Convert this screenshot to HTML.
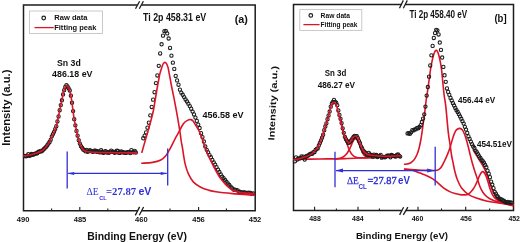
<!DOCTYPE html>
<html><head><meta charset="utf-8"><title>XPS spectra</title>
<style>html,body{margin:0;padding:0;background:#fff;}svg{display:block;filter:blur(0.2px);}</style>
</head><body>
<svg width="520" height="242" viewBox="0 0 520 242"><path d="M137.4 5 H23.5 V210.7 H137.4 M141.6 210.7 H255.2 V5 H141.6" fill="none" stroke="#1c1c1c" stroke-width="1.5" stroke-linejoin="miter" stroke-linecap="butt"/>
<g stroke="#1c1c1c" stroke-width="1.3" stroke-linecap="butt"><line x1="135.5" y1="8.8" x2="139.6" y2="1.3"/><line x1="139.3" y1="8.8" x2="143.4" y2="1.3"/><line x1="135.3" y1="215.4" x2="139.6" y2="206.9"/><line x1="139.3" y1="215.2" x2="143.6" y2="207"/></g>
<g stroke="#1c1c1c" stroke-width="1.1"><line x1="79.8" y1="210.7" x2="79.8" y2="206.9"/><line x1="198.6" y1="210.7" x2="198.6" y2="206.9"/><line x1="51.6" y1="210.7" x2="51.6" y2="208.5"/><line x1="107.8" y1="210.7" x2="107.8" y2="208.5"/><line x1="170" y1="210.7" x2="170" y2="208.5"/><line x1="226.4" y1="210.7" x2="226.4" y2="208.5"/></g>
<rect x="29.5" y="11" width="73" height="22.5" fill="#fff" stroke="#c4c4c4" stroke-width="0.9"/>
<g fill="none" stroke="#1c1c1c" stroke-width="1.2"><circle cx="43.7" cy="18" r="1.8"/></g>
<line x1="34.5" y1="27.6" x2="53.8" y2="27.6" stroke="#dc1428" stroke-width="1.3"/>
<text x="54.2" y="20.2" font-family="'Liberation Sans', Arial, sans-serif" font-size="8" font-weight="bold" fill="#111" textLength="33.3" lengthAdjust="spacingAndGlyphs">Raw data</text>
<text x="54.2" y="29.7" font-family="'Liberation Sans', Arial, sans-serif" font-size="8" font-weight="bold" fill="#111" textLength="42.2" lengthAdjust="spacingAndGlyphs">Fitting peak</text>
<text x="143" y="21.3" font-family="'Liberation Sans', Arial, sans-serif" font-size="10" font-weight="bold" fill="#111" textLength="63.2" lengthAdjust="spacingAndGlyphs">Ti 2p 458.31 eV</text>
<text x="234.7" y="22.6" font-family="'Liberation Sans', Arial, sans-serif" font-size="11" font-weight="bold" fill="#111" textLength="13.2" lengthAdjust="spacingAndGlyphs">(a)</text>
<text x="57" y="65.9" font-family="'Liberation Sans', Arial, sans-serif" font-size="9.3" font-weight="bold" fill="#111" textLength="23.8" lengthAdjust="spacingAndGlyphs">Sn 3d</text>
<text x="52.1" y="77.4" font-family="'Liberation Sans', Arial, sans-serif" font-size="8.9" font-weight="bold" fill="#111" textLength="40.4" lengthAdjust="spacingAndGlyphs">486.18 eV</text>
<text x="202.4" y="117.8" font-family="'Liberation Sans', Arial, sans-serif" font-size="8.9" font-weight="bold" fill="#111" textLength="41.2" lengthAdjust="spacingAndGlyphs">456.58 eV</text>
<text x="23.1" y="221.9" font-family="'Liberation Sans', Arial, sans-serif" font-size="7.6" font-weight="bold" fill="#111" textLength="12.6" lengthAdjust="spacingAndGlyphs" text-anchor="middle">490</text>
<text x="80" y="221.9" font-family="'Liberation Sans', Arial, sans-serif" font-size="7.6" font-weight="bold" fill="#111" textLength="12.6" lengthAdjust="spacingAndGlyphs" text-anchor="middle">485</text>
<text x="141.3" y="221.9" font-family="'Liberation Sans', Arial, sans-serif" font-size="7.6" font-weight="bold" fill="#111" textLength="12.6" lengthAdjust="spacingAndGlyphs" text-anchor="middle">460</text>
<text x="198.5" y="221.9" font-family="'Liberation Sans', Arial, sans-serif" font-size="7.6" font-weight="bold" fill="#111" textLength="12.6" lengthAdjust="spacingAndGlyphs" text-anchor="middle">456</text>
<text x="255" y="221.9" font-family="'Liberation Sans', Arial, sans-serif" font-size="7.6" font-weight="bold" fill="#111" textLength="12.6" lengthAdjust="spacingAndGlyphs" text-anchor="middle">452</text>
<text x="87.3" y="239.5" font-family="'Liberation Sans', Arial, sans-serif" font-size="10.4" font-weight="bold" fill="#111" textLength="99.6" lengthAdjust="spacingAndGlyphs">Binding Energy (eV)</text>
<text transform="translate(10.1 145.8) rotate(-90)" font-family="'Liberation Sans', Arial, sans-serif" font-size="10.8" font-weight="bold" fill="#111" textLength="76.3" lengthAdjust="spacingAndGlyphs">Intensity (a.u.)</text>
<g fill="none" stroke="#1c1c1c" stroke-width="1.05"><circle cx="24.96" cy="156.01" r="1.65"/><circle cx="26.08" cy="156.31" r="1.65"/><circle cx="27.2" cy="155.71" r="1.65"/><circle cx="28.32" cy="154.07" r="1.65"/><circle cx="29.44" cy="155.86" r="1.65"/><circle cx="30.56" cy="155.21" r="1.65"/><circle cx="31.68" cy="154.04" r="1.65"/><circle cx="32.8" cy="154.74" r="1.65"/><circle cx="33.92" cy="154.24" r="1.65"/><circle cx="35.04" cy="153.85" r="1.65"/><circle cx="36.16" cy="153.26" r="1.65"/><circle cx="37.28" cy="153.35" r="1.65"/><circle cx="38.4" cy="151.78" r="1.65"/><circle cx="39.52" cy="151.81" r="1.65"/><circle cx="40.64" cy="150.96" r="1.65"/><circle cx="41.76" cy="151.31" r="1.65"/><circle cx="42.88" cy="150.09" r="1.65"/><circle cx="44" cy="148.91" r="1.65"/><circle cx="45.12" cy="147.8" r="1.65"/><circle cx="46.24" cy="146.66" r="1.65"/><circle cx="47.36" cy="145.24" r="1.65"/><circle cx="48.48" cy="143.49" r="1.65"/><circle cx="49.6" cy="142.03" r="1.65"/><circle cx="50.72" cy="139.67" r="1.65"/><circle cx="51.84" cy="136.3" r="1.65"/><circle cx="52.96" cy="134.1" r="1.65"/><circle cx="54.08" cy="131.84" r="1.65"/><circle cx="55.2" cy="129.05" r="1.65"/><circle cx="56.32" cy="126.17" r="1.65"/><circle cx="57.44" cy="121.4" r="1.65"/><circle cx="58.56" cy="116.39" r="1.65"/><circle cx="59.68" cy="110.22" r="1.65"/><circle cx="60.8" cy="105.05" r="1.65"/><circle cx="61.92" cy="100.26" r="1.65"/><circle cx="63.04" cy="94.39" r="1.65"/><circle cx="64.16" cy="90.15" r="1.65"/><circle cx="65.28" cy="86.89" r="1.65"/><circle cx="66.4" cy="85.21" r="1.65"/><circle cx="67.52" cy="86.48" r="1.65"/><circle cx="68.64" cy="88.31" r="1.65"/><circle cx="69.76" cy="90.46" r="1.65"/><circle cx="70.88" cy="95.65" r="1.65"/><circle cx="72" cy="102.78" r="1.65"/><circle cx="73.12" cy="111.1" r="1.65"/><circle cx="74.24" cy="119.19" r="1.65"/><circle cx="75.36" cy="125.3" r="1.65"/><circle cx="76.48" cy="130.9" r="1.65"/><circle cx="77.6" cy="135.65" r="1.65"/><circle cx="78.72" cy="140.16" r="1.65"/><circle cx="79.84" cy="143.6" r="1.65"/><circle cx="80.96" cy="146.16" r="1.65"/><circle cx="82.08" cy="147.64" r="1.65"/><circle cx="83.2" cy="149.48" r="1.65"/><circle cx="84.32" cy="149.98" r="1.65"/><circle cx="85.44" cy="151.29" r="1.65"/><circle cx="86.56" cy="149.82" r="1.65"/><circle cx="87.68" cy="151.82" r="1.65"/><circle cx="88.8" cy="151.14" r="1.65"/><circle cx="89.92" cy="150.15" r="1.65"/><circle cx="91.04" cy="151.07" r="1.65"/><circle cx="92.16" cy="151.47" r="1.65"/><circle cx="93.28" cy="151.72" r="1.65"/><circle cx="94.4" cy="150.64" r="1.65"/><circle cx="95.52" cy="150.57" r="1.65"/><circle cx="96.64" cy="151.79" r="1.65"/><circle cx="97.76" cy="151.22" r="1.65"/><circle cx="98.88" cy="151.89" r="1.65"/><circle cx="100" cy="152.39" r="1.65"/><circle cx="101.12" cy="150.26" r="1.65"/><circle cx="102.24" cy="152" r="1.65"/><circle cx="103.36" cy="152.91" r="1.65"/><circle cx="104.48" cy="151.58" r="1.65"/><circle cx="105.6" cy="151.16" r="1.65"/><circle cx="106.72" cy="152.6" r="1.65"/><circle cx="107.84" cy="152.19" r="1.65"/><circle cx="108.96" cy="152.79" r="1.65"/><circle cx="110.08" cy="151.69" r="1.65"/><circle cx="111.2" cy="150.69" r="1.65"/><circle cx="112.32" cy="151.94" r="1.65"/><circle cx="113.44" cy="151.65" r="1.65"/><circle cx="114.56" cy="152.76" r="1.65"/><circle cx="115.68" cy="152.24" r="1.65"/><circle cx="116.8" cy="150.61" r="1.65"/><circle cx="117.92" cy="151.01" r="1.65"/><circle cx="119.04" cy="152.89" r="1.65"/><circle cx="120.16" cy="152.71" r="1.65"/><circle cx="121.28" cy="151.53" r="1.65"/><circle cx="122.4" cy="152.12" r="1.65"/><circle cx="123.52" cy="152.53" r="1.65"/><circle cx="124.64" cy="152.56" r="1.65"/><circle cx="125.76" cy="152.93" r="1.65"/><circle cx="126.88" cy="152.38" r="1.65"/><circle cx="128" cy="152.07" r="1.65"/><circle cx="129.12" cy="151.93" r="1.65"/><circle cx="130.24" cy="153.12" r="1.65"/><circle cx="131.36" cy="150.15" r="1.65"/><circle cx="132.48" cy="152.06" r="1.65"/><circle cx="133.6" cy="152.22" r="1.65"/><circle cx="134.72" cy="150.91" r="1.65"/><circle cx="135.84" cy="152.5" r="1.65"/></g>
<path d="M23.7 155.8C24.52 155.7 26.95 155.5 28.6 155.2C30.25 154.9 31.95 154.47 33.6 154C35.25 153.53 37.27 152.87 38.5 152.4C39.73 151.93 40.17 151.67 41 151.2C41.83 150.73 42.73 150.22 43.5 149.6C44.27 148.98 44.92 148.28 45.6 147.5C46.28 146.72 46.98 145.78 47.6 144.9C48.22 144.02 48.75 143.18 49.3 142.2C49.85 141.22 50.35 140.12 50.9 139C51.45 137.88 52.05 136.73 52.6 135.5C53.15 134.27 53.72 132.78 54.2 131.6C54.68 130.42 55.12 129.42 55.5 128.4C55.88 127.38 56.02 127.48 56.5 125.5C56.98 123.52 57.78 119.4 58.4 116.5C59.02 113.6 59.58 111.05 60.2 108.1C60.82 105.15 61.47 101.75 62.1 98.8C62.73 95.85 63.28 92.58 64 90.4C64.72 88.22 65.47 85.7 66.4 85.7C67.33 85.7 68.77 88.22 69.6 90.4C70.43 92.58 70.88 95.85 71.4 98.8C71.92 101.75 72.3 105.15 72.7 108.1C73.1 111.05 73.32 113.43 73.8 116.5C74.28 119.57 75 123.42 75.6 126.5C76.2 129.58 76.75 132.35 77.4 135C78.05 137.65 78.8 140.37 79.5 142.4C80.2 144.43 80.77 145.82 81.6 147.2C82.43 148.58 83.05 149.9 84.5 150.7C85.95 151.5 86.72 151.68 90.3 152C93.88 152.32 101.05 152.47 106 152.6C110.95 152.73 114.87 152.75 120 152.8C125.13 152.85 134 152.88 136.8 152.9" fill="none" stroke="#dc1428" stroke-width="1.6" stroke-linejoin="round" stroke-linecap="round"/>
<g fill="none" stroke="#1c1c1c" stroke-width="1.05"><circle cx="143.25" cy="138.27" r="1.65"/><circle cx="144.66" cy="135.7" r="1.65"/><circle cx="146.07" cy="132.44" r="1.65"/><circle cx="147.48" cy="127.74" r="1.65"/><circle cx="148.89" cy="122.74" r="1.65"/><circle cx="150.3" cy="115.34" r="1.65"/><circle cx="151.71" cy="106.99" r="1.65"/><circle cx="153.12" cy="99.66" r="1.65"/><circle cx="154.53" cy="92.22" r="1.65"/><circle cx="155.94" cy="83.07" r="1.65"/><circle cx="157.35" cy="75.49" r="1.65"/><circle cx="158.76" cy="65.82" r="1.65"/><circle cx="160.17" cy="53.48" r="1.65"/><circle cx="161.58" cy="44.29" r="1.65"/><circle cx="162.99" cy="35.65" r="1.65"/><circle cx="164.4" cy="31.19" r="1.65"/><circle cx="165.81" cy="30.94" r="1.65"/><circle cx="167.22" cy="33.39" r="1.65"/><circle cx="168.63" cy="38.5" r="1.65"/><circle cx="170.04" cy="47.98" r="1.65"/><circle cx="171.45" cy="55.63" r="1.65"/><circle cx="172.86" cy="62.65" r="1.65"/><circle cx="174.27" cy="68.93" r="1.65"/><circle cx="175.68" cy="75.94" r="1.65"/><circle cx="177.09" cy="80.39" r="1.65"/><circle cx="178.5" cy="84.73" r="1.65"/><circle cx="179.91" cy="89.69" r="1.65"/><circle cx="181.32" cy="92.67" r="1.65"/><circle cx="182.73" cy="94.79" r="1.65"/><circle cx="184.14" cy="97.05" r="1.65"/><circle cx="185.55" cy="99.48" r="1.65"/><circle cx="186.96" cy="101.48" r="1.65"/><circle cx="188.37" cy="103.66" r="1.65"/><circle cx="189.78" cy="106.09" r="1.65"/><circle cx="191.19" cy="108.71" r="1.65"/><circle cx="192.6" cy="111.56" r="1.65"/><circle cx="194.01" cy="114.42" r="1.65"/><circle cx="195.42" cy="117.57" r="1.65"/><circle cx="196.83" cy="120.89" r="1.65"/><circle cx="198.24" cy="124.57" r="1.65"/><circle cx="199.65" cy="128" r="1.65"/><circle cx="201.06" cy="133.14" r="1.65"/><circle cx="202.47" cy="137.05" r="1.65"/><circle cx="203.88" cy="141.53" r="1.65"/><circle cx="205.29" cy="146.53" r="1.65"/><circle cx="206.7" cy="149.87" r="1.65"/><circle cx="208.11" cy="152.37" r="1.65"/><circle cx="209.52" cy="155.06" r="1.65"/><circle cx="210.93" cy="157.29" r="1.65"/><circle cx="212.34" cy="159.94" r="1.65"/><circle cx="213.75" cy="162.36" r="1.65"/><circle cx="215.16" cy="164.61" r="1.65"/><circle cx="216.57" cy="167.16" r="1.65"/><circle cx="217.98" cy="169.64" r="1.65"/><circle cx="219.39" cy="171.97" r="1.65"/><circle cx="220.8" cy="174.37" r="1.65"/><circle cx="222.21" cy="176.55" r="1.65"/><circle cx="223.62" cy="178.2" r="1.65"/><circle cx="225.03" cy="179.92" r="1.65"/><circle cx="226.44" cy="181.65" r="1.65"/><circle cx="227.85" cy="183.49" r="1.65"/><circle cx="229.26" cy="185.04" r="1.65"/><circle cx="230.67" cy="186.66" r="1.65"/><circle cx="232.08" cy="188.11" r="1.65"/><circle cx="233.49" cy="189.48" r="1.65"/><circle cx="234.9" cy="189.69" r="1.65"/><circle cx="236.31" cy="190.19" r="1.65"/><circle cx="237.72" cy="190.37" r="1.65"/><circle cx="239.13" cy="192.01" r="1.65"/><circle cx="240.54" cy="191.93" r="1.65"/><circle cx="241.95" cy="192.7" r="1.65"/><circle cx="243.36" cy="192.39" r="1.65"/><circle cx="244.77" cy="192.33" r="1.65"/><circle cx="246.18" cy="192.91" r="1.65"/><circle cx="247.59" cy="192.85" r="1.65"/><circle cx="249" cy="192.57" r="1.65"/><circle cx="250.41" cy="192.81" r="1.65"/><circle cx="251.82" cy="193.83" r="1.65"/><circle cx="253.23" cy="193.4" r="1.65"/></g>
<path d="M141.8 163.3C143.58 163.15 149.33 162.95 152.5 162.4C155.67 161.85 158.58 161.1 160.8 160C163.02 158.9 164.15 157.87 165.8 155.8C167.45 153.73 169.2 150.35 170.7 147.6C172.2 144.85 173.52 141.77 174.8 139.3C176.08 136.83 176.97 135.4 178.4 132.8C179.83 130.2 181.88 125.77 183.4 123.7C184.92 121.63 186.27 121.08 187.5 120.4C188.73 119.72 189.83 119.47 190.8 119.6C191.77 119.73 192.47 120.23 193.3 121.2C194.13 122.17 194.83 123.75 195.8 125.4C196.77 127.05 198.15 129.18 199.1 131.1C200.05 133.02 200.68 134.68 201.5 136.9C202.32 139.12 203.37 142.58 204 144.4C204.63 146.22 204.65 146.1 205.3 147.8C205.95 149.5 206.88 152.23 207.9 154.6C208.92 156.97 210.2 159.53 211.4 162C212.6 164.47 213.85 167.07 215.1 169.4C216.35 171.73 217.7 174.13 218.9 176C220.1 177.87 221.12 179.12 222.3 180.6C223.48 182.08 224.47 183.42 226 184.9C227.53 186.38 229.58 188.35 231.5 189.5C233.42 190.65 235.12 191.2 237.5 191.8C239.88 192.4 243.02 192.78 245.8 193.1C248.58 193.42 252.8 193.6 254.2 193.7" fill="none" stroke="#dc1428" stroke-width="1.6" stroke-linejoin="round" stroke-linecap="round"/>
<path d="M141.9 152.3C142.48 150.25 144.33 143.72 145.4 140C146.47 136.28 147.35 133.33 148.3 130C149.25 126.67 150.23 123.33 151.1 120C151.97 116.67 152.75 113.75 153.5 110C154.25 106.25 154.9 101.67 155.6 97.5C156.3 93.33 157.18 87.95 157.7 85C158.22 82.05 158.33 81.7 158.7 79.8C159.07 77.9 159.38 75.67 159.9 73.6C160.42 71.53 161.23 69.07 161.8 67.4C162.37 65.73 162.78 64.43 163.3 63.6C163.82 62.77 164.37 62.4 164.9 62.4C165.43 62.4 165.98 62.77 166.5 63.6C167.02 64.43 167.55 65.73 168 67.4C168.45 69.07 168.8 71.53 169.2 73.6C169.6 75.67 170.05 77.9 170.4 79.8C170.75 81.7 170.7 81.93 171.3 85C171.9 88.07 173.13 93.8 174 98.2C174.87 102.6 175.75 107.28 176.5 111.4C177.25 115.52 177.92 119.47 178.5 122.9C179.08 126.33 179.55 128.98 180 132C180.45 135.02 180.78 138.33 181.2 141C181.62 143.67 182.1 145.58 182.5 148C182.9 150.42 183.13 152.73 183.6 155.5C184.07 158.27 184.5 161.55 185.3 164.6C186.1 167.65 187.03 170.88 188.4 173.8C189.77 176.72 191.45 179.87 193.5 182.1C195.55 184.33 198.12 185.83 200.7 187.2C203.28 188.57 206.45 189.53 209 190.3C211.55 191.07 212.08 191.25 216 191.8C219.92 192.35 226.13 193.03 232.5 193.6C238.87 194.17 250.58 194.93 254.2 195.2" fill="none" stroke="#dc1428" stroke-width="1.6" stroke-linejoin="round" stroke-linecap="round"/>
<g stroke="#2f2fd8" stroke-width="1.3" fill="none"><line x1="67.2" y1="151.6" x2="67.2" y2="188.4"/><line x1="167.7" y1="148.4" x2="167.7" y2="185.6"/><line x1="68.2" y1="173.4" x2="166.7" y2="173.4"/></g><path d="M67.8 173.4L74.2 171.9L74.2 174.9Z M167.1 173.4L160.7 171.9L160.7 174.9Z" fill="#2f2fd8"/>
<g fill="#2f2fd8"><text x="86.6" y="195.3" font-family="'Liberation Serif', 'Times New Roman', serif" font-size="11" font-weight="normal" fill="#2f2fd8" textLength="12.2" lengthAdjust="spacingAndGlyphs">&#916;E</text><text x="99.2" y="199.7" font-family="'Liberation Sans', Arial, sans-serif" font-size="5.8" font-weight="bold" fill="#2f2fd8" textLength="7.4" lengthAdjust="spacingAndGlyphs">CL</text><text x="106" y="195.3" font-family="'Liberation Serif', 'Times New Roman', serif" font-size="10.6" font-weight="bold" fill="#2f2fd8" textLength="30.2" lengthAdjust="spacingAndGlyphs">=27.87</text><text x="138.4" y="195.3" font-family="'Liberation Sans', Arial, sans-serif" font-size="10.3" font-weight="bold" fill="#2f2fd8" textLength="13" lengthAdjust="spacingAndGlyphs">eV</text></g>
<path d="M401.4 4.4 H293.5 V210.6 H401.5 M405.6 210.6 H513.5 V4.4 H405.4" fill="none" stroke="#1c1c1c" stroke-width="1.5" stroke-linejoin="miter" stroke-linecap="butt"/>
<g stroke="#1c1c1c" stroke-width="1.3" stroke-linecap="butt"><line x1="399.5" y1="8.2" x2="403.3" y2="0.4"/><line x1="403.3" y1="8.2" x2="407.3" y2="0.4"/><line x1="399.6" y1="214.9" x2="403.6" y2="207.2"/><line x1="403.3" y1="214.9" x2="407.9" y2="207.2"/></g>
<g stroke="#1c1c1c" stroke-width="1.1"><line x1="314.6" y1="210.6" x2="314.6" y2="206.8"/><line x1="358" y1="210.6" x2="358" y2="206.8"/><line x1="418" y1="210.6" x2="418" y2="206.8"/><line x1="465.7" y1="210.6" x2="465.7" y2="206.8"/><line x1="336.4" y1="210.6" x2="336.4" y2="208.4"/><line x1="379.4" y1="210.6" x2="379.4" y2="208.4"/><line x1="441.5" y1="210.6" x2="441.5" y2="208.4"/><line x1="489.6" y1="210.6" x2="489.6" y2="208.4"/></g>
<rect x="299.8" y="9.6" width="62" height="20.8" fill="#fff" stroke="#c4c4c4" stroke-width="0.9"/>
<g fill="none" stroke="#1c1c1c" stroke-width="1.2"><circle cx="310.8" cy="15.4" r="1.8"/></g>
<line x1="303.4" y1="24.6" x2="319.6" y2="24.6" stroke="#dc1428" stroke-width="1.3"/>
<text x="320.6" y="17.9" font-family="'Liberation Sans', Arial, sans-serif" font-size="7.7" font-weight="bold" fill="#111" textLength="29.5" lengthAdjust="spacingAndGlyphs">Raw data</text>
<text x="320.6" y="27" font-family="'Liberation Sans', Arial, sans-serif" font-size="7.5" font-weight="bold" fill="#111" textLength="36.8" lengthAdjust="spacingAndGlyphs">Fitting peak</text>
<text x="409.4" y="17.6" font-family="'Liberation Sans', Arial, sans-serif" font-size="10" font-weight="bold" fill="#111" textLength="57.8" lengthAdjust="spacingAndGlyphs">Ti 2p 458.40 eV</text>
<text x="494.4" y="22.4" font-family="'Liberation Sans', Arial, sans-serif" font-size="10.6" font-weight="bold" fill="#111" textLength="12.2" lengthAdjust="spacingAndGlyphs">(b]</text>
<text x="324.7" y="75.9" font-family="'Liberation Sans', Arial, sans-serif" font-size="8.4" font-weight="bold" fill="#111" textLength="21.6" lengthAdjust="spacingAndGlyphs">Sn 3d</text>
<text x="317.7" y="87.8" font-family="'Liberation Sans', Arial, sans-serif" font-size="9.2" font-weight="bold" fill="#111" textLength="37.3" lengthAdjust="spacingAndGlyphs">486.27 eV</text>
<text x="458" y="102.8" font-family="'Liberation Sans', Arial, sans-serif" font-size="8.6" font-weight="bold" fill="#111" textLength="37.2" lengthAdjust="spacingAndGlyphs">456.44 eV</text>
<text x="477.1" y="146.7" font-family="'Liberation Sans', Arial, sans-serif" font-size="8.6" font-weight="bold" fill="#111" textLength="34.7" lengthAdjust="spacingAndGlyphs">454.51eV</text>
<text x="315" y="221.3" font-family="'Liberation Sans', Arial, sans-serif" font-size="7.8" font-weight="bold" fill="#111" textLength="11.6" lengthAdjust="spacingAndGlyphs" text-anchor="middle">488</text>
<text x="357.9" y="221.3" font-family="'Liberation Sans', Arial, sans-serif" font-size="7.8" font-weight="bold" fill="#111" textLength="11.6" lengthAdjust="spacingAndGlyphs" text-anchor="middle">484</text>
<text x="417.5" y="221.3" font-family="'Liberation Sans', Arial, sans-serif" font-size="7.8" font-weight="bold" fill="#111" textLength="11.6" lengthAdjust="spacingAndGlyphs" text-anchor="middle">460</text>
<text x="466" y="221.3" font-family="'Liberation Sans', Arial, sans-serif" font-size="7.8" font-weight="bold" fill="#111" textLength="11.6" lengthAdjust="spacingAndGlyphs" text-anchor="middle">456</text>
<text x="514.2" y="221.3" font-family="'Liberation Sans', Arial, sans-serif" font-size="7.8" font-weight="bold" fill="#111" textLength="11.6" lengthAdjust="spacingAndGlyphs" text-anchor="middle">452</text>
<text x="355.9" y="238.8" font-family="'Liberation Sans', Arial, sans-serif" font-size="9.6" font-weight="bold" fill="#111" textLength="92.2" lengthAdjust="spacingAndGlyphs">Binding Energy (eV)</text>
<text transform="translate(274.3 140.6) rotate(-87.4)" font-family="'Liberation Sans', Arial, sans-serif" font-size="8.8" font-weight="bold" fill="#111" textLength="74.5" lengthAdjust="spacingAndGlyphs">Intensity (a.u.)</text>
<path d="M404.6 169.1C406.03 169.32 410.63 169.73 413.2 170.4C415.77 171.07 417.83 172.25 420 173.1C422.17 173.95 424.13 174.58 426.2 175.5C428.27 176.42 430.55 177.47 432.4 178.6C434.25 179.73 435.45 180.75 437.3 182.3C439.15 183.85 441.43 186.35 443.5 187.9C445.57 189.45 447.78 190.65 449.7 191.6C451.62 192.55 453.28 193.1 455 193.6C456.72 194.1 458.35 194.38 460 194.6C461.65 194.82 463.53 194.97 464.9 194.9C466.27 194.83 467.18 194.72 468.2 194.2C469.22 193.68 470.13 192.7 471 191.8C471.87 190.9 472.6 190.02 473.4 188.8C474.2 187.58 475.1 185.92 475.8 184.5C476.5 183.08 476.93 181.85 477.6 180.3C478.27 178.75 479.05 176.62 479.8 175.2C480.55 173.78 481.37 172.23 482.1 171.8C482.83 171.37 483.52 171.82 484.2 172.6C484.88 173.38 485.58 175.02 486.2 176.5C486.82 177.98 487.3 179.58 487.9 181.5C488.5 183.42 489.12 185.95 489.8 188C490.48 190.05 491.13 192.1 492 193.8C492.87 195.5 493.42 196.7 495 198.2C496.58 199.7 498.53 201.53 501.5 202.8C504.47 204.07 510.92 205.3 512.8 205.8" fill="none" stroke="#dc1428" stroke-width="1.6" stroke-linejoin="round" stroke-linecap="round"/>
<path d="M404.6 169.3C406.33 169.38 411.6 169.63 415 169.8C418.4 169.97 421.58 170.18 425 170.3C428.42 170.42 433.23 170.62 435.5 170.5C437.77 170.38 437.68 170.1 438.6 169.6C439.52 169.1 440.1 168.77 441 167.5C441.9 166.23 442.95 164.1 444 162C445.05 159.9 446.33 157.18 447.3 154.9C448.27 152.62 449.1 150.37 449.8 148.3C450.5 146.23 450.9 144.52 451.5 142.5C452.1 140.48 452.73 138.08 453.4 136.2C454.07 134.32 454.8 132.4 455.5 131.2C456.2 130 456.88 129.47 457.6 129C458.32 128.53 459.03 128.27 459.8 128.4C460.57 128.53 461.5 129.03 462.2 129.8C462.9 130.57 463.42 131.7 464 133C464.58 134.3 465 135.35 465.7 137.6C466.4 139.85 467.45 143.63 468.2 146.5C468.95 149.37 469.52 152.05 470.2 154.8C470.88 157.55 471.57 160.38 472.3 163C473.03 165.62 473.8 168 474.6 170.5C475.4 173 476.23 175.38 477.1 178C477.97 180.62 478.82 183.78 479.8 186.2C480.78 188.62 481.8 190.73 483 192.5C484.2 194.27 485.33 195.52 487 196.8C488.67 198.08 490.5 199.17 493 200.2C495.5 201.23 498.7 202.17 502 203C505.3 203.83 511 204.83 512.8 205.2" fill="none" stroke="#dc1428" stroke-width="1.6" stroke-linejoin="round" stroke-linecap="round"/>
<path d="M404.6 164.3C405 164.25 406.12 164.18 407 164C407.88 163.82 409.07 163.57 409.9 163.2C410.73 162.83 411.32 162.35 412 161.8C412.68 161.25 413.2 161.03 414 159.9C414.8 158.77 415.97 156.9 416.8 155C417.63 153.1 418.33 151 419 148.5C419.67 146 420.27 142.92 420.8 140C421.33 137.08 421.72 134.33 422.2 131C422.68 127.67 423.23 123.5 423.7 120C424.17 116.5 424.58 113.33 425 110C425.42 106.67 425.7 103.67 426.2 100C426.7 96.33 427.45 91.83 428 88C428.55 84.17 429.07 80.17 429.5 77C429.93 73.83 430.22 71.45 430.6 69C430.98 66.55 431.32 64.6 431.8 62.3C432.28 60 432.97 57.02 433.5 55.2C434.03 53.38 434.55 52.2 435 51.4C435.45 50.6 435.8 50.4 436.2 50.4C436.6 50.4 436.97 50.6 437.4 51.4C437.83 52.2 438.3 53.38 438.8 55.2C439.3 57.02 439.93 59.83 440.4 62.3C440.87 64.77 441.27 67.38 441.6 70C441.93 72.62 441.98 73.87 442.4 78C442.82 82.13 443.53 90.07 444.1 94.8C444.67 99.53 445.1 100.08 445.8 106.4C446.5 112.72 447.55 126.07 448.3 132.7C449.05 139.33 449.77 142.48 450.3 146.2C450.83 149.92 451.05 152.28 451.5 155C451.95 157.72 452.42 159.67 453 162.5C453.58 165.33 454.25 169.08 455 172C455.75 174.92 456.4 177.32 457.5 180C458.6 182.68 459.82 185.72 461.6 188.1C463.38 190.48 465.72 192.63 468.2 194.3C470.68 195.97 473.47 196.98 476.5 198.1C479.53 199.22 482.48 200.15 486.4 201C490.32 201.85 495.6 202.6 500 203.2C504.4 203.8 510.67 204.37 512.8 204.6" fill="none" stroke="#dc1428" stroke-width="1.6" stroke-linejoin="round" stroke-linecap="round"/>
<path d="M473.3 150.2C473.8 151.03 475.3 153.57 476.3 155.2C477.3 156.83 478.32 158.43 479.3 160C480.28 161.57 481.25 162.93 482.2 164.6C483.15 166.27 484.22 168.33 485 170C485.78 171.67 486.25 172.88 486.9 174.6C487.55 176.32 488.23 178.4 488.9 180.3C489.57 182.2 490.22 184.17 490.9 186C491.58 187.83 492.23 189.6 493 191.3C493.77 193 494.5 194.72 495.5 196.2C496.5 197.68 497.5 199.08 499 200.2C500.5 201.32 502.2 202.27 504.5 202.9C506.8 203.53 511.42 203.82 512.8 204" fill="none" stroke="#dc1428" stroke-width="1.6" stroke-linejoin="round" stroke-linecap="round"/>
<path d="M294.2 159.3C298.5 159.25 311.53 159.12 320 159C328.47 158.88 337.5 158.8 345 158.6C352.5 158.4 359.17 158.03 365 157.8C370.83 157.57 374.1 157.35 380 157.2C385.9 157.05 397 156.95 400.4 156.9" fill="none" stroke="#dc1428" stroke-width="1.6" stroke-linejoin="round" stroke-linecap="round"/>
<path d="M335 159C335.83 158.88 338.67 158.63 340 158.3C341.33 157.97 342 157.63 343 157C344 156.37 345.08 155.5 346 154.5C346.92 153.5 347.75 152.25 348.5 151C349.25 149.75 349.83 148.42 350.5 147C351.17 145.58 351.92 143.73 352.5 142.5C353.08 141.27 353.53 140.25 354 139.6C354.47 138.95 354.83 138.6 355.3 138.6C355.77 138.6 356.27 138.9 356.8 139.6C357.33 140.3 357.88 141.4 358.5 142.8C359.12 144.2 359.83 146.33 360.5 148C361.17 149.67 361.83 151.53 362.5 152.8C363.17 154.07 363.75 154.9 364.5 155.6C365.25 156.3 365.75 156.7 367 157C368.25 157.3 371.17 157.33 372 157.4" fill="none" stroke="#dc1428" stroke-width="1.6" stroke-linejoin="round" stroke-linecap="round"/>
<path d="M340.3 118.1C340.57 119.2 341.42 122.55 341.9 124.7C342.38 126.85 342.6 128.62 343.2 131C343.8 133.38 344.78 136.63 345.5 139C346.22 141.37 346.8 143.23 347.5 145.2C348.2 147.17 348.87 149.17 349.7 150.8C350.53 152.43 351.45 153.93 352.5 155C353.55 156.07 354.58 156.72 356 157.2C357.42 157.68 358.33 157.83 361 157.9C363.67 157.97 370.17 157.65 372 157.6" fill="none" stroke="#dc1428" stroke-width="1.6" stroke-linejoin="round" stroke-linecap="round"/>
<g fill="none" stroke="#1c1c1c" stroke-width="1.05"><circle cx="294.94" cy="161.31" r="1.65"/><circle cx="296.02" cy="157.44" r="1.65"/><circle cx="297.11" cy="159.59" r="1.65"/><circle cx="298.19" cy="158.55" r="1.65"/><circle cx="299.28" cy="158.36" r="1.65"/><circle cx="300.36" cy="158.22" r="1.65"/><circle cx="301.45" cy="156.42" r="1.65"/><circle cx="302.53" cy="157.48" r="1.65"/><circle cx="303.62" cy="156.6" r="1.65"/><circle cx="304.7" cy="159.61" r="1.65"/><circle cx="305.79" cy="156.79" r="1.65"/><circle cx="306.87" cy="155.96" r="1.65"/><circle cx="307.96" cy="155.61" r="1.65"/><circle cx="309.04" cy="154.81" r="1.65"/><circle cx="310.13" cy="153.9" r="1.65"/><circle cx="311.21" cy="153.75" r="1.65"/><circle cx="312.3" cy="153.66" r="1.65"/><circle cx="313.38" cy="152.21" r="1.65"/><circle cx="314.47" cy="152.15" r="1.65"/><circle cx="315.55" cy="150.02" r="1.65"/><circle cx="316.64" cy="148.81" r="1.65"/><circle cx="317.72" cy="148.44" r="1.65"/><circle cx="318.81" cy="145.47" r="1.65"/><circle cx="319.89" cy="142.89" r="1.65"/><circle cx="320.98" cy="140.45" r="1.65"/><circle cx="322.06" cy="137.68" r="1.65"/><circle cx="323.15" cy="134.7" r="1.65"/><circle cx="324.23" cy="130.23" r="1.65"/><circle cx="325.32" cy="126.53" r="1.65"/><circle cx="326.4" cy="123.36" r="1.65"/><circle cx="327.49" cy="119.26" r="1.65"/><circle cx="328.57" cy="115.49" r="1.65"/><circle cx="329.66" cy="111.52" r="1.65"/><circle cx="330.74" cy="106.64" r="1.65"/><circle cx="331.83" cy="103.36" r="1.65"/><circle cx="332.91" cy="101.82" r="1.65"/><circle cx="334" cy="99.95" r="1.65"/><circle cx="335.08" cy="101.84" r="1.65"/><circle cx="336.17" cy="102.73" r="1.65"/><circle cx="337.25" cy="105.18" r="1.65"/><circle cx="338.34" cy="110.48" r="1.65"/><circle cx="339.42" cy="114.91" r="1.65"/><circle cx="340.51" cy="118.81" r="1.65"/><circle cx="341.59" cy="123.07" r="1.65"/><circle cx="342.68" cy="128.34" r="1.65"/><circle cx="343.76" cy="132.86" r="1.65"/><circle cx="344.85" cy="136.83" r="1.65"/><circle cx="345.93" cy="139.17" r="1.65"/><circle cx="347.02" cy="140.89" r="1.65"/><circle cx="348.1" cy="142.7" r="1.65"/><circle cx="349.19" cy="142.63" r="1.65"/><circle cx="350.27" cy="141.45" r="1.65"/><circle cx="351.36" cy="140.28" r="1.65"/><circle cx="352.44" cy="138.44" r="1.65"/><circle cx="353.53" cy="136.91" r="1.65"/><circle cx="354.61" cy="135.85" r="1.65"/><circle cx="355.7" cy="136.22" r="1.65"/><circle cx="356.78" cy="136.1" r="1.65"/><circle cx="357.87" cy="138.23" r="1.65"/><circle cx="358.95" cy="140.91" r="1.65"/><circle cx="360.04" cy="143.11" r="1.65"/><circle cx="361.12" cy="146.44" r="1.65"/><circle cx="362.21" cy="148.52" r="1.65"/><circle cx="363.29" cy="151.04" r="1.65"/><circle cx="364.38" cy="151.68" r="1.65"/><circle cx="365.46" cy="152.87" r="1.65"/><circle cx="366.55" cy="154.36" r="1.65"/><circle cx="367.63" cy="155.2" r="1.65"/><circle cx="368.72" cy="152.89" r="1.65"/><circle cx="369.8" cy="154.5" r="1.65"/><circle cx="370.89" cy="155.38" r="1.65"/><circle cx="371.97" cy="154.81" r="1.65"/><circle cx="373.06" cy="156.72" r="1.65"/><circle cx="374.14" cy="154.65" r="1.65"/><circle cx="375.23" cy="156.03" r="1.65"/><circle cx="376.31" cy="155.04" r="1.65"/><circle cx="377.4" cy="157.12" r="1.65"/><circle cx="378.48" cy="156.09" r="1.65"/><circle cx="379.57" cy="155.89" r="1.65"/><circle cx="380.65" cy="154.88" r="1.65"/><circle cx="381.74" cy="157.64" r="1.65"/><circle cx="382.82" cy="156.9" r="1.65"/><circle cx="383.91" cy="156.9" r="1.65"/><circle cx="384.99" cy="157.2" r="1.65"/><circle cx="386.08" cy="156.56" r="1.65"/><circle cx="387.16" cy="155.76" r="1.65"/><circle cx="388.25" cy="155.62" r="1.65"/><circle cx="389.33" cy="155.61" r="1.65"/><circle cx="390.42" cy="157.32" r="1.65"/><circle cx="391.5" cy="155.04" r="1.65"/><circle cx="392.59" cy="155.71" r="1.65"/><circle cx="393.67" cy="155.89" r="1.65"/><circle cx="394.76" cy="156.27" r="1.65"/><circle cx="395.84" cy="156.47" r="1.65"/><circle cx="396.93" cy="154.93" r="1.65"/><circle cx="398.01" cy="154.45" r="1.65"/><circle cx="399.1" cy="155.72" r="1.65"/><circle cx="400.18" cy="156.59" r="1.65"/></g>
<path d="M294.2 159.8C294.93 159.65 297.03 159.32 298.6 158.9C300.17 158.48 301.95 157.85 303.6 157.3C305.25 156.75 306.85 156.43 308.5 155.6C310.15 154.77 311.98 153.67 313.5 152.3C315.02 150.93 316.37 149.33 317.6 147.4C318.83 145.47 319.93 143.05 320.9 140.7C321.87 138.35 322.78 135.25 323.4 133.3C324.02 131.35 324.18 130.43 324.6 129C325.02 127.57 325.35 126.52 325.9 124.7C326.45 122.88 327.28 120.3 327.9 118.1C328.52 115.9 329.05 113.58 329.6 111.5C330.15 109.42 330.7 106.97 331.2 105.6C331.7 104.23 332.13 103.85 332.6 103.3C333.07 102.75 333.53 102.3 334 102.3C334.47 102.3 334.97 102.72 335.4 103.3C335.83 103.88 336.15 104.43 336.6 105.8C337.05 107.17 337.58 109.45 338.1 111.5C338.62 113.55 339.15 115.9 339.7 118.1C340.25 120.3 340.85 122.47 341.4 124.7C341.95 126.93 342.45 129.48 343 131.5C343.55 133.52 344.37 135.92 344.7 136.8C345.03 137.68 344.62 136.13 345 136.8C345.38 137.47 346.37 139.8 347 140.8C347.63 141.8 348.23 142.67 348.8 142.8C349.37 142.93 349.78 142.37 350.4 141.6C351.02 140.83 351.73 139.13 352.5 138.2C353.27 137.27 354.17 136.12 355 136C355.83 135.88 356.73 136.42 357.5 137.5C358.27 138.58 358.85 140.68 359.6 142.5C360.35 144.32 361.18 146.75 362 148.4C362.82 150.05 363.5 151.4 364.5 152.4C365.5 153.4 366.75 153.92 368 154.4C369.25 154.88 369.57 154.98 372 155.3C374.43 155.62 379.27 156.15 382.6 156.3C385.93 156.45 389.03 156.32 392 156.2C394.97 156.08 399 155.7 400.4 155.6" fill="none" stroke="#dc1428" stroke-width="1.6" stroke-linejoin="round" stroke-linecap="round"/>
<g fill="none" stroke="#1c1c1c" stroke-width="1.05"><circle cx="407.54" cy="133.4" r="1.65"/><circle cx="408.74" cy="133.27" r="1.65"/><circle cx="409.93" cy="133.82" r="1.65"/><circle cx="411.13" cy="132.36" r="1.65"/><circle cx="412.32" cy="130.14" r="1.65"/><circle cx="413.51" cy="130.4" r="1.65"/><circle cx="414.71" cy="129.37" r="1.65"/><circle cx="415.9" cy="129.31" r="1.65"/><circle cx="417.1" cy="127.8" r="1.65"/><circle cx="418.29" cy="128.21" r="1.65"/><circle cx="419.48" cy="126.93" r="1.65"/><circle cx="420.68" cy="125.22" r="1.65"/><circle cx="421.87" cy="122.01" r="1.65"/><circle cx="423.07" cy="118.58" r="1.65"/><circle cx="424.26" cy="114.3" r="1.65"/><circle cx="425.45" cy="106.56" r="1.65"/><circle cx="426.65" cy="95.56" r="1.65"/><circle cx="427.84" cy="87.03" r="1.65"/><circle cx="429.04" cy="76.64" r="1.65"/><circle cx="430.23" cy="65.49" r="1.65"/><circle cx="431.42" cy="55.34" r="1.65"/><circle cx="432.62" cy="45.89" r="1.65"/><circle cx="433.81" cy="37.99" r="1.65"/><circle cx="435.01" cy="33.08" r="1.65"/><circle cx="436.2" cy="29.87" r="1.65"/><circle cx="437.39" cy="30.36" r="1.65"/><circle cx="438.59" cy="34.45" r="1.65"/><circle cx="439.78" cy="42.52" r="1.65"/><circle cx="440.98" cy="49.93" r="1.65"/><circle cx="442.17" cy="57.53" r="1.65"/><circle cx="443.36" cy="66.93" r="1.65"/><circle cx="444.56" cy="75.29" r="1.65"/><circle cx="445.75" cy="81.83" r="1.65"/><circle cx="446.95" cy="88.48" r="1.65"/><circle cx="448.14" cy="91.88" r="1.65"/><circle cx="449.33" cy="94.84" r="1.65"/><circle cx="450.53" cy="97.9" r="1.65"/><circle cx="451.72" cy="100.46" r="1.65"/><circle cx="452.92" cy="103.16" r="1.65"/><circle cx="454.11" cy="105.53" r="1.65"/><circle cx="455.3" cy="107.99" r="1.65"/><circle cx="456.5" cy="110.21" r="1.65"/><circle cx="457.69" cy="111.96" r="1.65"/><circle cx="458.89" cy="114.17" r="1.65"/><circle cx="460.08" cy="116.39" r="1.65"/><circle cx="461.27" cy="118.75" r="1.65"/><circle cx="462.47" cy="121.18" r="1.65"/><circle cx="463.66" cy="123.55" r="1.65"/><circle cx="464.86" cy="126.81" r="1.65"/><circle cx="466.05" cy="129.6" r="1.65"/><circle cx="467.24" cy="132.97" r="1.65"/><circle cx="468.44" cy="136.39" r="1.65"/><circle cx="469.63" cy="138.96" r="1.65"/><circle cx="470.83" cy="141.68" r="1.65"/><circle cx="472.02" cy="144.13" r="1.65"/><circle cx="473.21" cy="146.52" r="1.65"/><circle cx="474.41" cy="148.03" r="1.65"/><circle cx="475.6" cy="150.6" r="1.65"/><circle cx="476.8" cy="152.05" r="1.65"/><circle cx="477.99" cy="154.08" r="1.65"/><circle cx="479.18" cy="156.14" r="1.65"/><circle cx="480.38" cy="157.93" r="1.65"/><circle cx="481.57" cy="159.73" r="1.65"/><circle cx="482.77" cy="161.09" r="1.65"/><circle cx="483.96" cy="162.77" r="1.65"/><circle cx="485.15" cy="165.02" r="1.65"/><circle cx="486.35" cy="167.28" r="1.65"/><circle cx="487.54" cy="170.65" r="1.65"/><circle cx="488.74" cy="173.68" r="1.65"/><circle cx="489.93" cy="177.23" r="1.65"/><circle cx="491.12" cy="181.67" r="1.65"/><circle cx="492.32" cy="184.62" r="1.65"/><circle cx="493.51" cy="188.15" r="1.65"/><circle cx="494.71" cy="191.91" r="1.65"/><circle cx="495.9" cy="193.72" r="1.65"/><circle cx="497.09" cy="195.97" r="1.65"/><circle cx="498.29" cy="197.15" r="1.65"/><circle cx="499.48" cy="198.58" r="1.65"/><circle cx="500.68" cy="199.08" r="1.65"/><circle cx="501.87" cy="199.71" r="1.65"/><circle cx="503.06" cy="200.51" r="1.65"/><circle cx="504.26" cy="201.2" r="1.65"/><circle cx="505.45" cy="201.8" r="1.65"/><circle cx="506.65" cy="202.53" r="1.65"/><circle cx="507.84" cy="201.91" r="1.65"/><circle cx="509.03" cy="202.63" r="1.65"/><circle cx="510.23" cy="202.4" r="1.65"/><circle cx="511.42" cy="202.66" r="1.65"/></g>
<g stroke="#2f2fd8" stroke-width="1.3" fill="none"><line x1="335" y1="151.8" x2="335" y2="187.3"/><line x1="435.2" y1="146.7" x2="435.2" y2="185.4"/><line x1="336" y1="170.6" x2="434.2" y2="170.6"/></g><path d="M335.6 170.6L343 168.6L343 172.6Z M434.6 170.6L427.2 168.6L427.2 172.6Z" fill="#2f2fd8"/>
<g><text x="347" y="184" font-family="'Liberation Serif', 'Times New Roman', serif" font-size="11" font-weight="normal" fill="#2f2fd8" textLength="11.8" lengthAdjust="spacingAndGlyphs" stroke="#2f2fd8" stroke-width="0.25">&#916;E</text><text x="358.4" y="188.7" font-family="'Liberation Sans', Arial, sans-serif" font-size="6.4" font-weight="bold" fill="#2f2fd8" textLength="8.4" lengthAdjust="spacingAndGlyphs">CL</text><text x="367.4" y="184" font-family="'Liberation Serif', 'Times New Roman', serif" font-size="10.8" font-weight="normal" fill="#2f2fd8" textLength="29.2" lengthAdjust="spacingAndGlyphs" stroke="#2f2fd8" stroke-width="0.4">=27.87</text><text x="398.1" y="184" font-family="'Liberation Sans', Arial, sans-serif" font-size="10.4" font-weight="bold" fill="#2f2fd8" textLength="11.9" lengthAdjust="spacingAndGlyphs">eV</text></g></svg>
</body></html>
